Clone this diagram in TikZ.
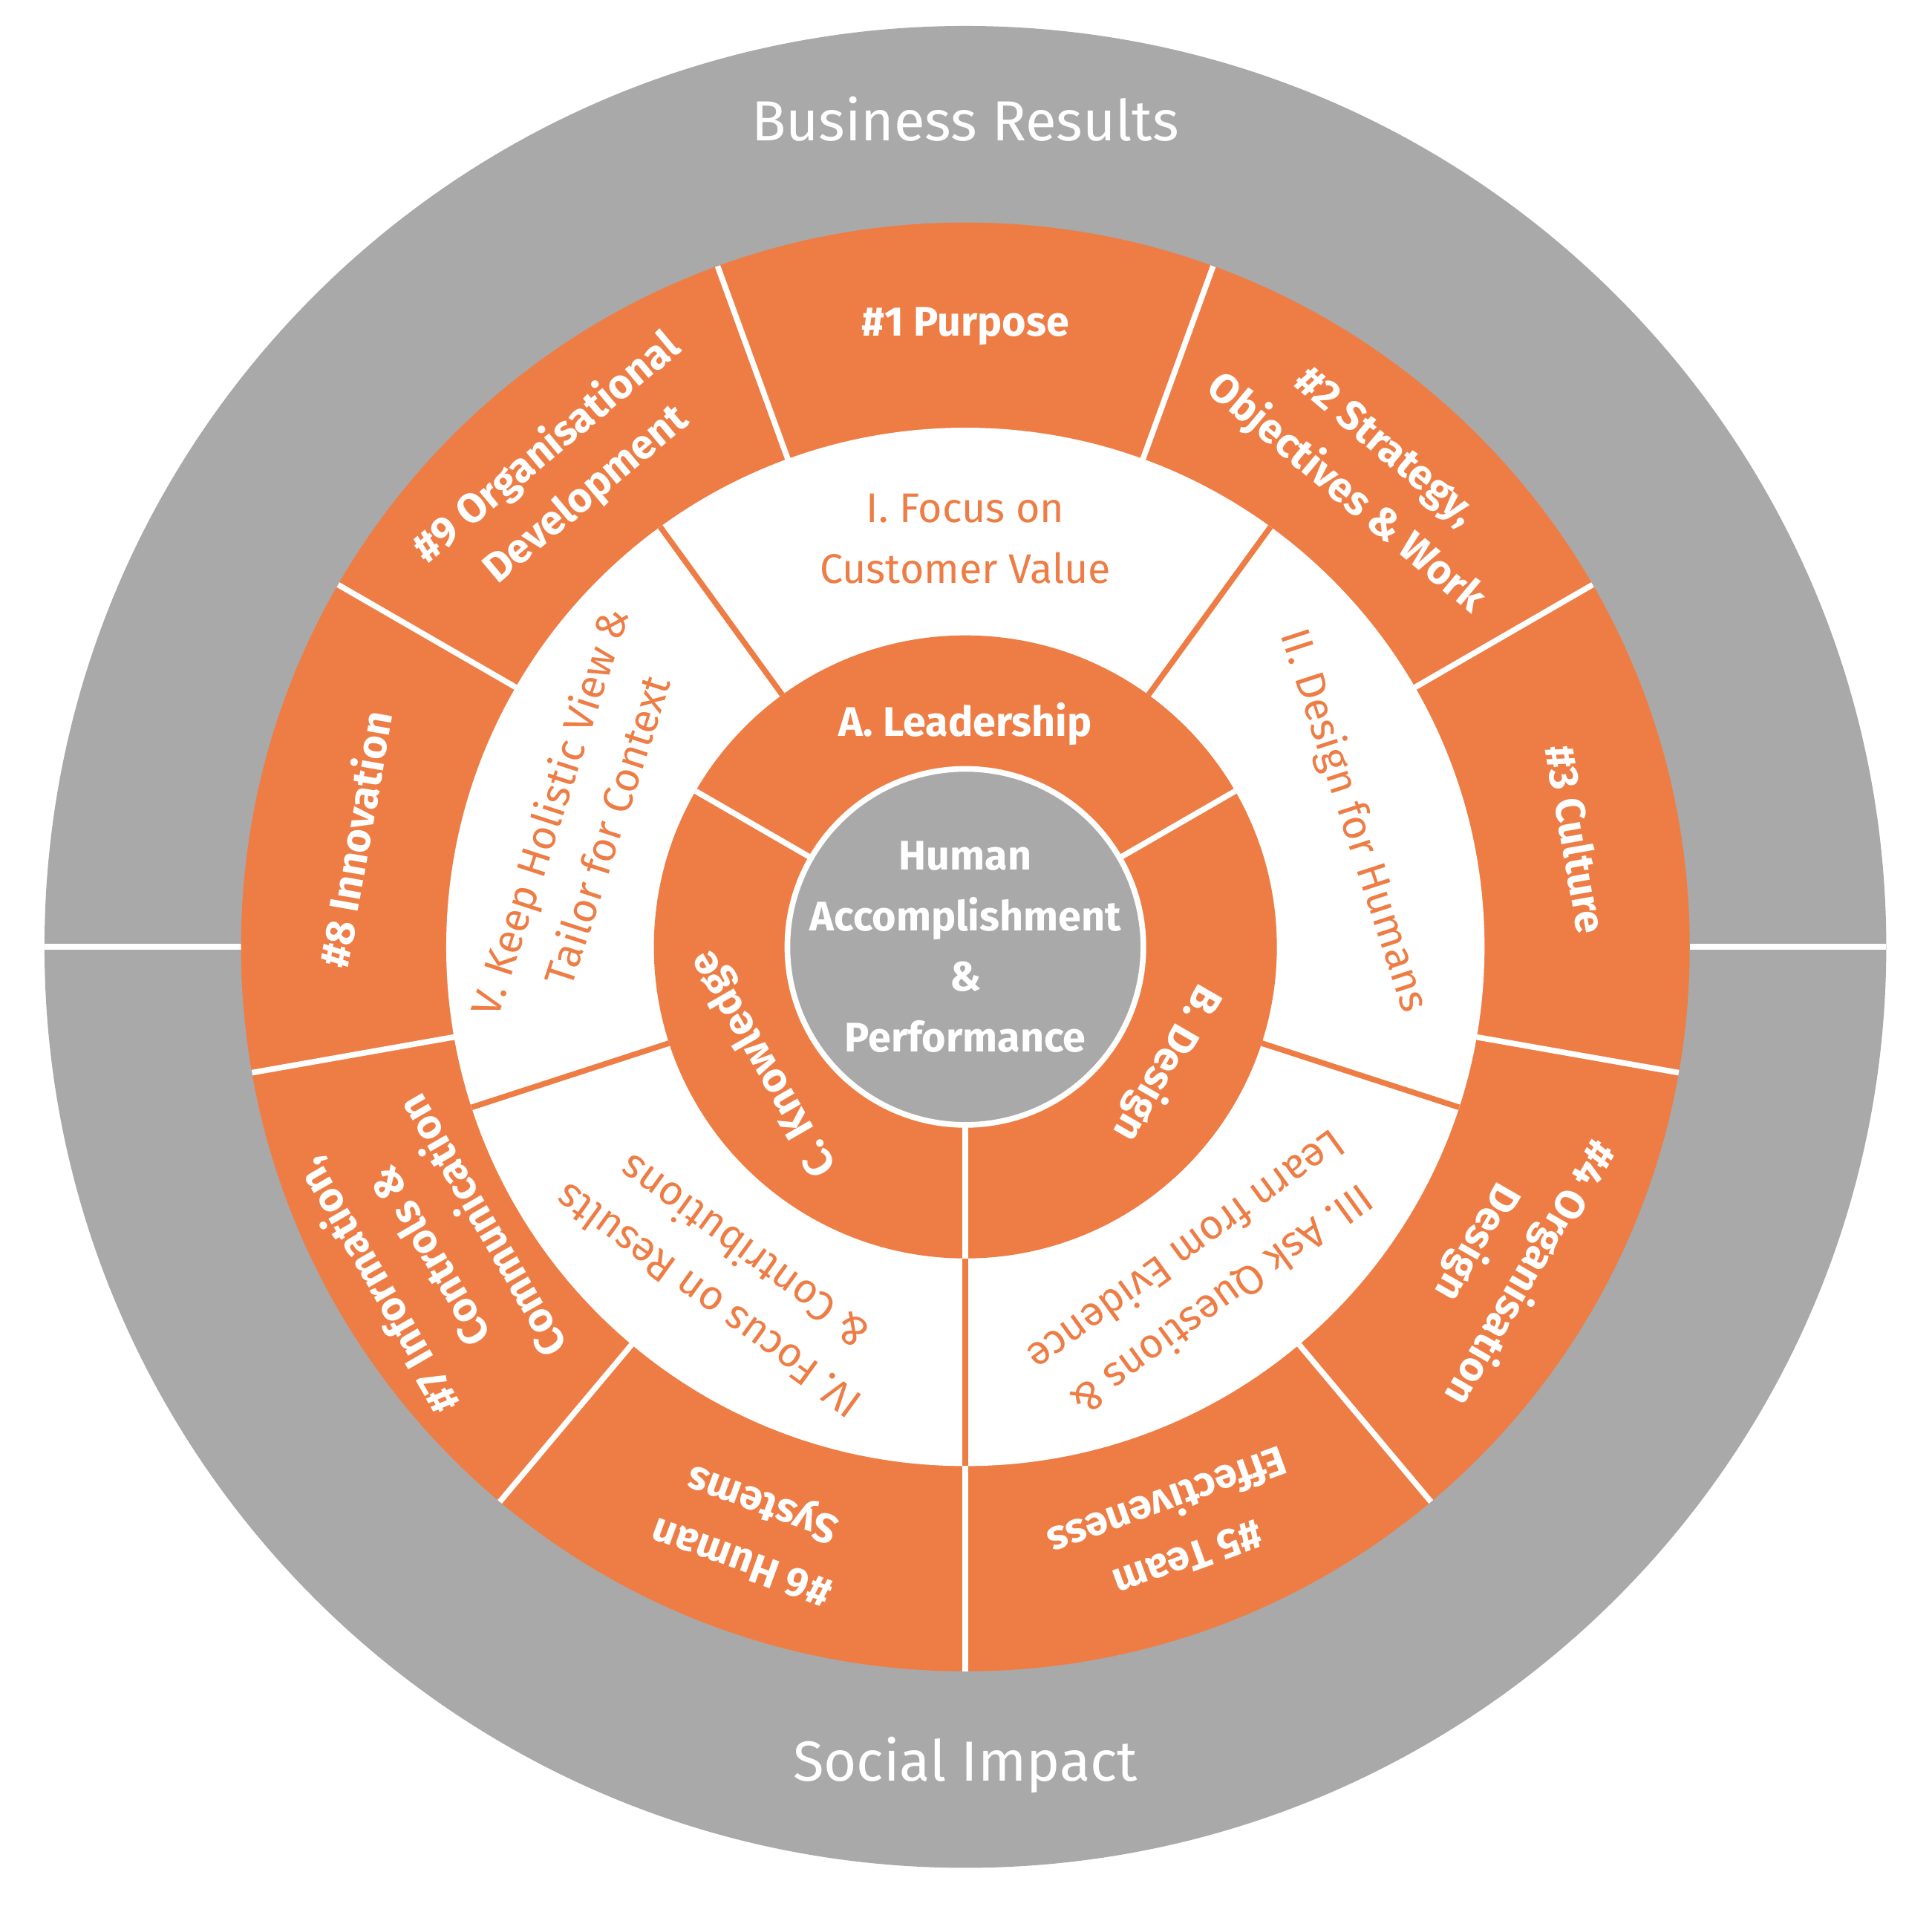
\documentclass[tikz,border=0pt]{standalone}
\usepackage{fontspec}
\setmainfont{Fira Sans}
\definecolor{org}{HTML}{EE7D45}
\definecolor{gry}{HTML}{A9A9A9}
\begin{document}
\begin{tikzpicture}[x=0.01cm,y=0.01cm,
  olab/.style={text=white,font=\fontsize{9.5}{14}\selectfont\bfseries,align=center},
  wlab/.style={text=org,font=\fontsize{9.5}{14}\selectfont,align=center},
  mlab/.style={text=white,font=\fontsize{9.5}{14}\selectfont\bfseries,align=center},
  wline/.style={white,line width=1.3pt},
  oline/.style={org,line width=1.3pt}]
\useasboundingbox (-781,-785) rectangle (782,766);
\fill[gry] (0,0) circle (745);
\draw[wline] (-745,0) -- (-586,0) (586,0) -- (745,0);
\fill[org] (0,0) circle (586);
\fill[white] (0,0) circle (420);
\fill[org] (0,0) circle (252);
\foreach \a in {70,110,150,190,230,270,310,350,30} \draw[wline] (\a:420) -- (\a:586);
\foreach \a in {54,126,198,270,342} \draw[oline] (\a:252) -- (\a:420);
\foreach \a in {30,150,270} \draw[wline] (\a:144) -- (\a:252);
\fill[gry,draw=white,line width=1.3pt] (0,0) circle (144);
\node[text=white,font=\fontsize{13}{16}\selectfont] (br) at (0,670) {Business Results};
\node[text=white,font=\fontsize{13}{16}\selectfont] (si) at (0,-662) {Social Impact};
\node[mlab] (c) at (0,0) {Human\\Accomplishment\\\&\\Performance};
\node[olab,rotate=0] (o1) at (90:502) {\#1 Purpose};
\node[olab,rotate=-40] (o2) at (50:502) {\#2 Strategy,\\Objectives \& Work};
\node[olab,rotate=-80] (o3) at (10:502) {\#3 Culture};
\node[olab,rotate=-120] (o4) at (-30:502) {\#4 Organisation\\Design};
\node[olab,rotate=-160] (o5) at (-70:502) {\#5 Team\\Effectiveness};
\node[olab,rotate=160] (o6) at (-110:502) {\#6 Human\\Systems};
\node[olab,rotate=120] (o7) at (-150:502) {\#7 Information,\\Controls \&\\Communication};
\node[olab,rotate=80] (o8) at (170:502) {\#8 Innovation};
\node[olab,rotate=40] (o9) at (130:502) {\#9 Organisational\\Development};
\node[wlab] (w1) at (90:330) {I. Focus on\\Customer Value};
\node[wlab,rotate=-72] (w2) at (18:330) {II. Design for Humans};
\node[wlab,rotate=-144] (w3) at (-54:330) {III. Ask Questions \&\\Learn from Evidence};
\node[wlab,rotate=144] (w4) at (-126:330) {IV. Focus on Results\\\& Contributions};
\node[wlab,rotate=72] (w5) at (162:330) {V. Keep Holistic View \&\\Tailor for Context};
\node[mlab] (m1) at (90:180) {A. Leadership};
\node[mlab,rotate=-120] (m2) at (-30:188) {B. Design};
\node[mlab,rotate=120] (m3) at (210:188) {C. Knowledge};
\end{tikzpicture}
\end{document}
